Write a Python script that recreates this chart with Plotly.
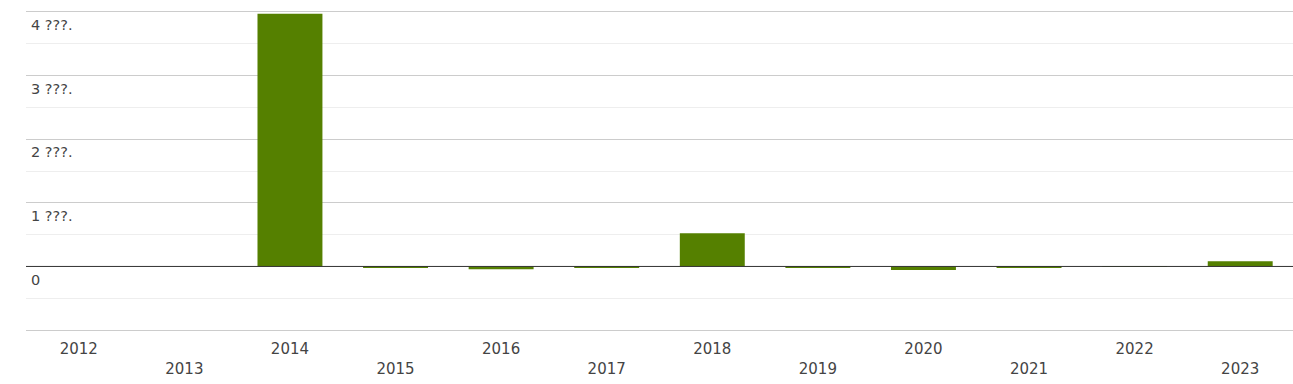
import plotly.graph_objects as go

years = ["2012", "2013", "2014", "2015", "2016", "2017", "2018", "2019", "2020", "2021", "2022", "2023"]
values = [0.0, 0.0, 3.97, -0.012, -0.045, -0.012, 0.52, -0.012, -0.055, -0.02, -0.006, 0.08]
y_tick_vals = [-1, 0, 1, 2, 3, 4]
y_tick_text = ["", "0", "1 ???.", "2 ???.", "3 ???.", "4 ???."]
x_tick_text = [y if i % 2 == 0 else "<br>" + y for i, y in enumerate(years)]

fig = go.Figure()
fig.add_trace(go.Bar(x=years, y=values, marker=dict(color="#558000", line=dict(width=0)),
                     hoverinfo="x+y"))

fig.add_shape(type="line", xref="paper", yref="y", x0=0, x1=1, y0=0, y1=0,
              line=dict(color="#333333", width=1), layer="above")

fig.update_layout(
    width=1293, height=384,
    margin=dict(l=26, r=0, t=10, b=52),
    plot_bgcolor="white", paper_bgcolor="white",
    bargap=0.385,
    showlegend=False,
    font=dict(family="DejaVu Sans", size=14.5, color="#444444"),
)
fig.update_xaxes(
    type="category", categoryorder="array", categoryarray=years,
    range=[-0.5, len(years) - 0.5],
    tickmode="array", tickvals=years, ticktext=x_tick_text,
    showgrid=False, showline=False, zeroline=False, ticks="", automargin=False,
    ticklabelstandoff=6,
    tickfont=dict(size=15, color="#444444"),
)
fig.update_yaxes(
    range=[-1.03, 4.03], tickmode="array", tickvals=y_tick_vals, ticktext=y_tick_text,
    showgrid=True, gridcolor="#cccccc", gridwidth=1, automargin=False,
    zeroline=False, showline=False, ticks="",
    ticklabelposition="inside", ticklabelshift=13, ticklabelstandoff=2,
    ticklabeloverflow="allow",
    tickfont=dict(size=14.5, color="#444444"),
    minor=dict(tickmode="array", tickvals=[-0.5, 0.5, 1.5, 2.5, 3.5], showgrid=True,
               gridcolor="#eeeeee", gridwidth=1, ticks=""),
)

fig.write_html(
    "out.html",
    config={"displayModeBar": False},
    post_script="document.body.style.margin='0';document.body.style.overflow='hidden';",
)
